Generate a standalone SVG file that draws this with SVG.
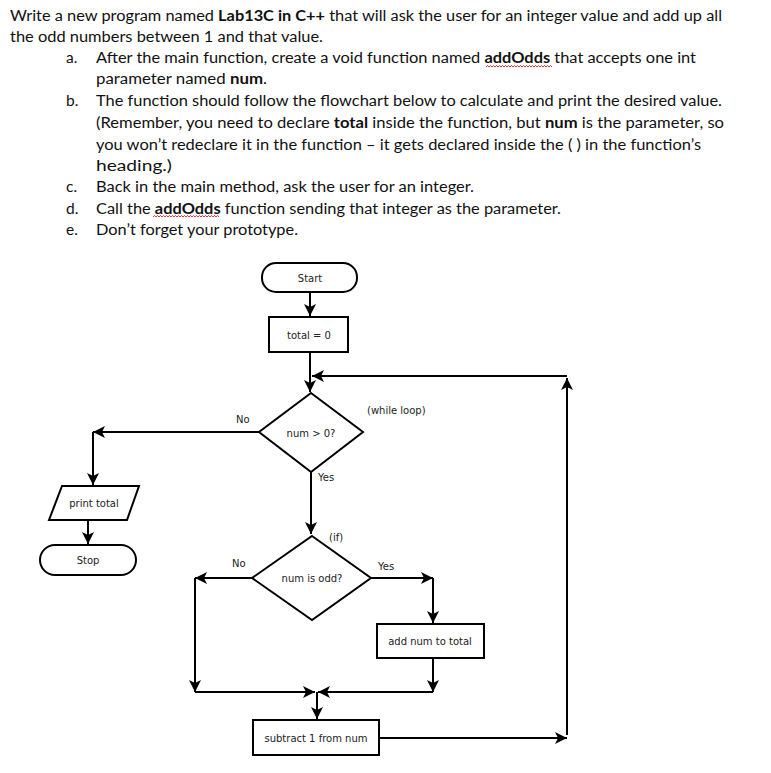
<svg xmlns="http://www.w3.org/2000/svg" width="771" height="773" viewBox="0 0 771 773">
<style>
.t{font-family:Lato,"Liberation Sans",sans-serif;font-size:15.5px;fill:#111}
.b{font-weight:bold}
.f{font-family:"DejaVu Sans",Verdana,sans-serif;font-size:10px;fill:#222}
.s{fill:#fff;stroke:#000;stroke-width:2}
.c{fill:none;stroke:#000;stroke-width:2}
.sq{fill:none;stroke:#d00;stroke-width:0.8}
</style>
<defs>
<marker id="ah" markerUnits="userSpaceOnUse" markerWidth="14" markerHeight="14" refX="12" refY="6" orient="auto">
<path d="M0,0 L12,6 L0,12 L3,6 Z" fill="#000"/>
</marker>
<path id="wave" d="M0,0 l1.5,-1.5 l1.5,1.5 l1.5,-1.5 l1.5,1.5 l1.5,-1.5 l1.5,1.5 l1.5,-1.5 l1.5,1.5 l1.5,-1.5 l1.5,1.5 l1.5,-1.5 l1.5,1.5 l1.5,-1.5 l1.5,1.5 l1.5,-1.5 l1.5,1.5 l1.5,-1.5 l1.5,1.5 l1.5,-1.5 l1.5,1.5 l1.5,-1.5 l1.5,1.5 l1.5,-1.5 l1.5,1.5 l1.5,-1.5 l1.5,1.5 l1.5,-1.5 l1.5,1.5 l1.5,-1.5 l1.5,1.5 l1.5,-1.5 l1.5,1.5 l1.5,-1.5 l1.5,1.5 l1.5,-1.5 l1.5,1.5 l1.5,-1.5 l1.5,1.5 l1.5,-1.5 l1.5,1.5 l1.5,-1.5 l1.5,1.5 l1.5,-1.5 l1.5,1.5"/>
</defs>
<g id="text">
<text class="t" x="10" y="21" textLength="712" lengthAdjust="spacingAndGlyphs">Write a new program named <tspan class="b">Lab13C in C++</tspan> that will ask the user for an integer value and add up all</text>
<text class="t" x="10" y="42" textLength="313" lengthAdjust="spacingAndGlyphs">the odd numbers between 1 and that value.</text>
<text class="t" x="66" y="63">a.</text>
<text class="t" x="96" y="63" textLength="600" lengthAdjust="spacingAndGlyphs">After the main function, create a void function named <tspan class="b">addOdds</tspan> that accepts one int</text>
<text class="t" x="96" y="84" textLength="171" lengthAdjust="spacingAndGlyphs">parameter named <tspan class="b">num</tspan>.</text>
<text class="t" x="66" y="106">b.</text>
<text class="t" x="96" y="106" textLength="626" lengthAdjust="spacingAndGlyphs">The function should follow the flowchart below to calculate and print the desired value.</text>
<text class="t" x="96" y="128" textLength="628" lengthAdjust="spacingAndGlyphs">(Remember, you need to declare <tspan class="b">total</tspan> inside the function, but <tspan class="b">num</tspan> is the parameter, so</text>
<text class="t" x="96" y="150" textLength="605" lengthAdjust="spacingAndGlyphs">you won’t redeclare it in the function – it gets declared inside the ( ) in the function’s</text>
<text class="t" x="96" y="171" textLength="76" lengthAdjust="spacingAndGlyphs">heading.)</text>
<text class="t" x="66" y="192">c.</text>
<text class="t" x="96" y="192" textLength="378" lengthAdjust="spacingAndGlyphs">Back in the main method, ask the user for an integer.</text>
<text class="t" x="66" y="214">d.</text>
<text class="t" x="96" y="214" textLength="465" lengthAdjust="spacingAndGlyphs">Call the <tspan class="b">addOdds</tspan> function sending that integer as the parameter.</text>
<text class="t" x="66" y="235">e.</text>
<text class="t" x="96" y="235" textLength="202" lengthAdjust="spacingAndGlyphs">Don’t forget your prototype.</text>
<use href="#wave" class="sq" x="486" y="67"/>
<use href="#wave" class="sq" x="153" y="217"/>
</g>
<g id="connectors">
<path class="c" d="M310,292 V316" marker-end="url(#ah)"/>
<path class="c" d="M310,352 V392" marker-end="url(#ah)"/>
<path class="c" d="M379,738 H567" marker-end="url(#ah)"/>
<path class="c" d="M567,735 V378" marker-end="url(#ah)"/>
<path class="c" d="M567,376 H312" marker-end="url(#ah)"/>
<path class="c" d="M259,432 H93" marker-end="url(#ah)"/>
<path class="c" d="M93,432 V485" marker-end="url(#ah)"/>
<path class="c" d="M88,520 V544" marker-end="url(#ah)"/>
<path class="c" d="M311,472 V534" marker-end="url(#ah)"/>
<path class="c" d="M252,578 H195" marker-end="url(#ah)"/>
<path class="c" d="M195,578 V692" marker-end="url(#ah)"/>
<path class="c" d="M195,692 H315" marker-end="url(#ah)"/>
<path class="c" d="M371,578 H433" marker-end="url(#ah)"/>
<path class="c" d="M433,578 V623" marker-end="url(#ah)"/>
<path class="c" d="M433,658 V692" marker-end="url(#ah)"/>
<path class="c" d="M433,692 H318" marker-end="url(#ah)"/>
<path class="c" d="M317,692 V719" marker-end="url(#ah)"/>
</g>
<g id="start">
<rect class="s" x="262" y="263" width="95" height="29" rx="14"/>
<text class="f" x="310" y="282" text-anchor="middle">Start</text>
</g>
<g id="init">
<rect class="s" x="269" y="317" width="79" height="35"/>
<text class="f" x="309" y="339" text-anchor="middle">total = 0</text>
</g>
<g id="while">
<path class="s" d="M311,393 L363,432 L311,472 L259,432 Z"/>
<text class="f" x="311" y="437" text-anchor="middle">num &gt; 0?</text>
<text class="f" x="367" y="414">(while loop)</text>
<text class="f" x="236" y="423">No</text>
<text class="f" x="318" y="481">Yes</text>
</g>
<g id="print">
<path class="s" d="M62,486 L139,486 L127,520 L49,520 Z"/>
<text class="f" x="94" y="507" text-anchor="middle">print total</text>
</g>
<g id="stop">
<rect class="s" x="40" y="545" width="96" height="30" rx="15"/>
<text class="f" x="88" y="564" text-anchor="middle">Stop</text>
</g>
<g id="ifodd">
<path class="s" d="M312,536 L371,578 L312,620 L252,578 Z"/>
<text class="f" x="312" y="582" text-anchor="middle">num is odd?</text>
<text class="f" x="329" y="541">(if)</text>
<text class="f" x="232" y="567">No</text>
<text class="f" x="378" y="570">Yes</text>
</g>
<g id="add">
<rect class="s" x="377" y="624" width="107" height="34"/>
<text class="f" x="430" y="645" text-anchor="middle">add num to total</text>
</g>
<g id="subtract">
<rect class="s" x="253" y="720" width="126" height="35"/>
<text class="f" x="316" y="742" text-anchor="middle">subtract 1 from num</text>
</g>
</svg>
